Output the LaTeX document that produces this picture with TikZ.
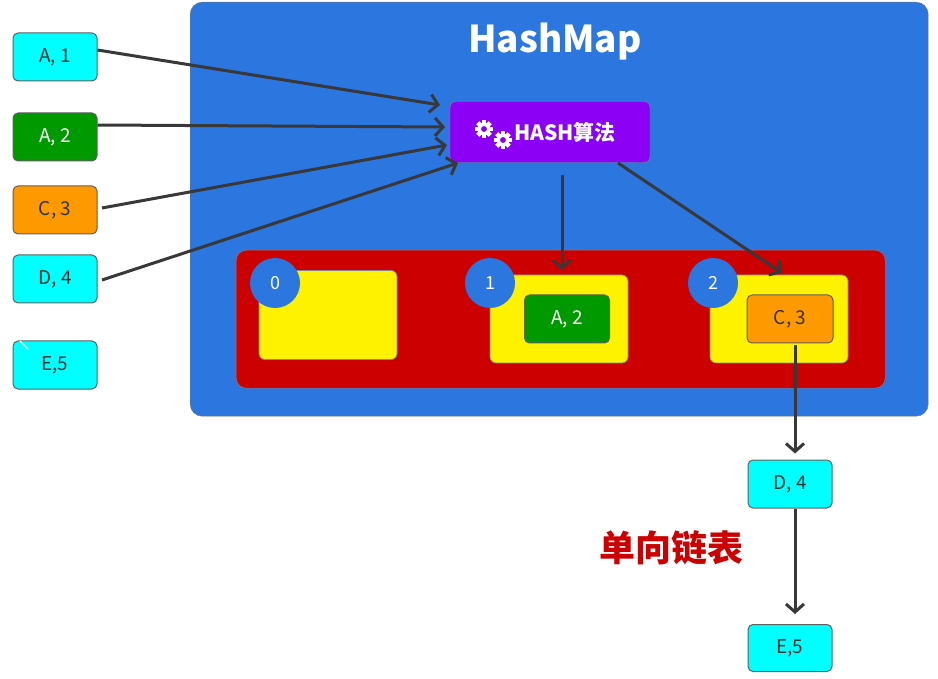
\documentclass[tikz,border=0pt]{standalone}
\usepackage{fontspec}
\setmainfont{Noto Sans CJK SC}
\usetikzlibrary{arrows.meta,calc}
\definecolor{hblue}{HTML}{2B76DF}
\definecolor{hpurple}{HTML}{8C00F5}
\definecolor{hred}{HTML}{CC0000}
\definecolor{hcyan}{HTML}{00FFFF}
\definecolor{hgreen}{HTML}{009900}
\definecolor{horange}{HTML}{FF9900}
\definecolor{hline}{HTML}{383838}
\tikzset{
  item/.style={draw=hline!80, rounded corners=5pt, line width=1pt, font=\fontsize{19}{22}\selectfont, text=black!80},
  bucket/.style={fill=yellow, draw=hline!60, rounded corners=6pt, line width=0.8pt},
  idx/.style={circle, fill=hblue, minimum size=50pt, inner sep=0pt, text=white, font=\fontsize{18}{22}\selectfont},
  conn/.style={draw=hline, line width=3pt, -{Straight Barb[length=8pt,width=18pt,line width=3pt]}}
}
\newcommand{\gear}[2]{%
  \fill[white] (#1) circle (#2);
  \foreach \a in {0,45,...,315}{\fill[white,rotate around={\a:(#1)}] ($(#1)+(-#2*0.3,-#2*1.35)$) rectangle ($(#1)+(#2*0.3,#2*1.35)$);}
  \fill[hpurple] (#1) circle (#2*0.45);}
\begin{document}
\begin{tikzpicture}[x=1pt,y=-1pt]
\useasboundingbox (0,0) rectangle (938,679);
% map frame
\node[draw=hline!70, fill=hblue, rounded corners=12pt, minimum width=738pt, minimum height=414pt, anchor=north west] (map) at (190,2) {};
\node[text=white, font=\bfseries\fontsize{37}{42}\selectfont] (title) at (555,42) {HashMap};
\node[draw=hline!60, fill=hpurple, rounded corners=6pt, minimum width=200pt, minimum height=61pt, text=white, font=\bfseries\fontsize{21}{24}\selectfont] (hash) at (550,132) {\hspace{30pt}HASH算法};
\gear{484,129}{6.5}
\gear{503,140}{6.5}
% buckets
\node[draw=hline!60, fill=hred, rounded corners=10pt, minimum width=649pt, minimum height=138pt, anchor=north west] (arr) at (236,250) {};
\node[bucket, minimum width=138pt, minimum height=89pt] (b0) at (328,315) {};
\node[bucket, minimum width=138pt, minimum height=88pt] (b1) at (559,319) {};
\node[bucket, minimum width=138pt, minimum height=88pt] (b2) at (779,319) {};
\node[idx] (i0) at (275,283) {0};
\node[idx] (i1) at (490,283) {1};
\node[idx] (i2) at (713,283) {2};
\node[item, fill=hgreen, text=white, minimum width=85pt, minimum height=48pt] (ba2) at (567,319) {A, 2};
\node[item, fill=horange, minimum width=86pt, minimum height=48pt] (bc3) at (790,319) {C, 3};
% inputs
\node[item, fill=hcyan, minimum width=84pt, minimum height=48pt] (a1) at (55,57) {A, 1};
\node[item, fill=hgreen, text=white, minimum width=84pt, minimum height=48pt] (a2) at (55,137) {A, 2};
\node[item, fill=horange, minimum width=84pt, minimum height=48pt] (c3) at (55,210) {C, 3};
\node[item, fill=hcyan, minimum width=84pt, minimum height=48pt] (d4) at (55,279) {D, 4};
\node[item, fill=hcyan, minimum width=84pt, minimum height=48pt] (e5) at (55,365) {E,5};
\draw[white, line width=1.2pt] (20,341) -- (28,349);
% chain
\node[item, fill=hcyan, minimum width=84pt, minimum height=48pt] (cd4) at (790,484) {D, 4};
\node[item, fill=hcyan, minimum width=84pt, minimum height=47pt] (ce5) at (790,648) {E,5};
\node[text=hred, font=\bfseries\fontsize{36}{40}\selectfont] (lbl) at (671,548) {单向链表};
% connectors
\coordinate (h1) at (440,105);
\coordinate (h2) at (445,127);
\coordinate (h3) at (447,145);
\coordinate (h4) at (458,163);
\coordinate (hs1) at (562,175);
\coordinate (hs2) at (618,163);
\coordinate (t1) at (562,270);
\coordinate (t2) at (782,273);
\coordinate (cs) at (795,345);
\draw[conn] (a1.east |- 0,50) -- (h1);
\draw[conn] (a2.east |- 0,125) -- (h2);
\draw[conn] (102,208) -- (h3);
\draw[conn] (102,280) -- (h4);
\draw[conn] (hs1) -- (t1);
\draw[conn] (hs2) -- (t2);
\draw[conn] (cs) -- ($(cd4.north)+(5,-6)$);
\draw[conn] ($(cd4.south)+(5,0)$) -- ($(ce5.north)+(5,-10)$);
\end{tikzpicture}
\end{document}
